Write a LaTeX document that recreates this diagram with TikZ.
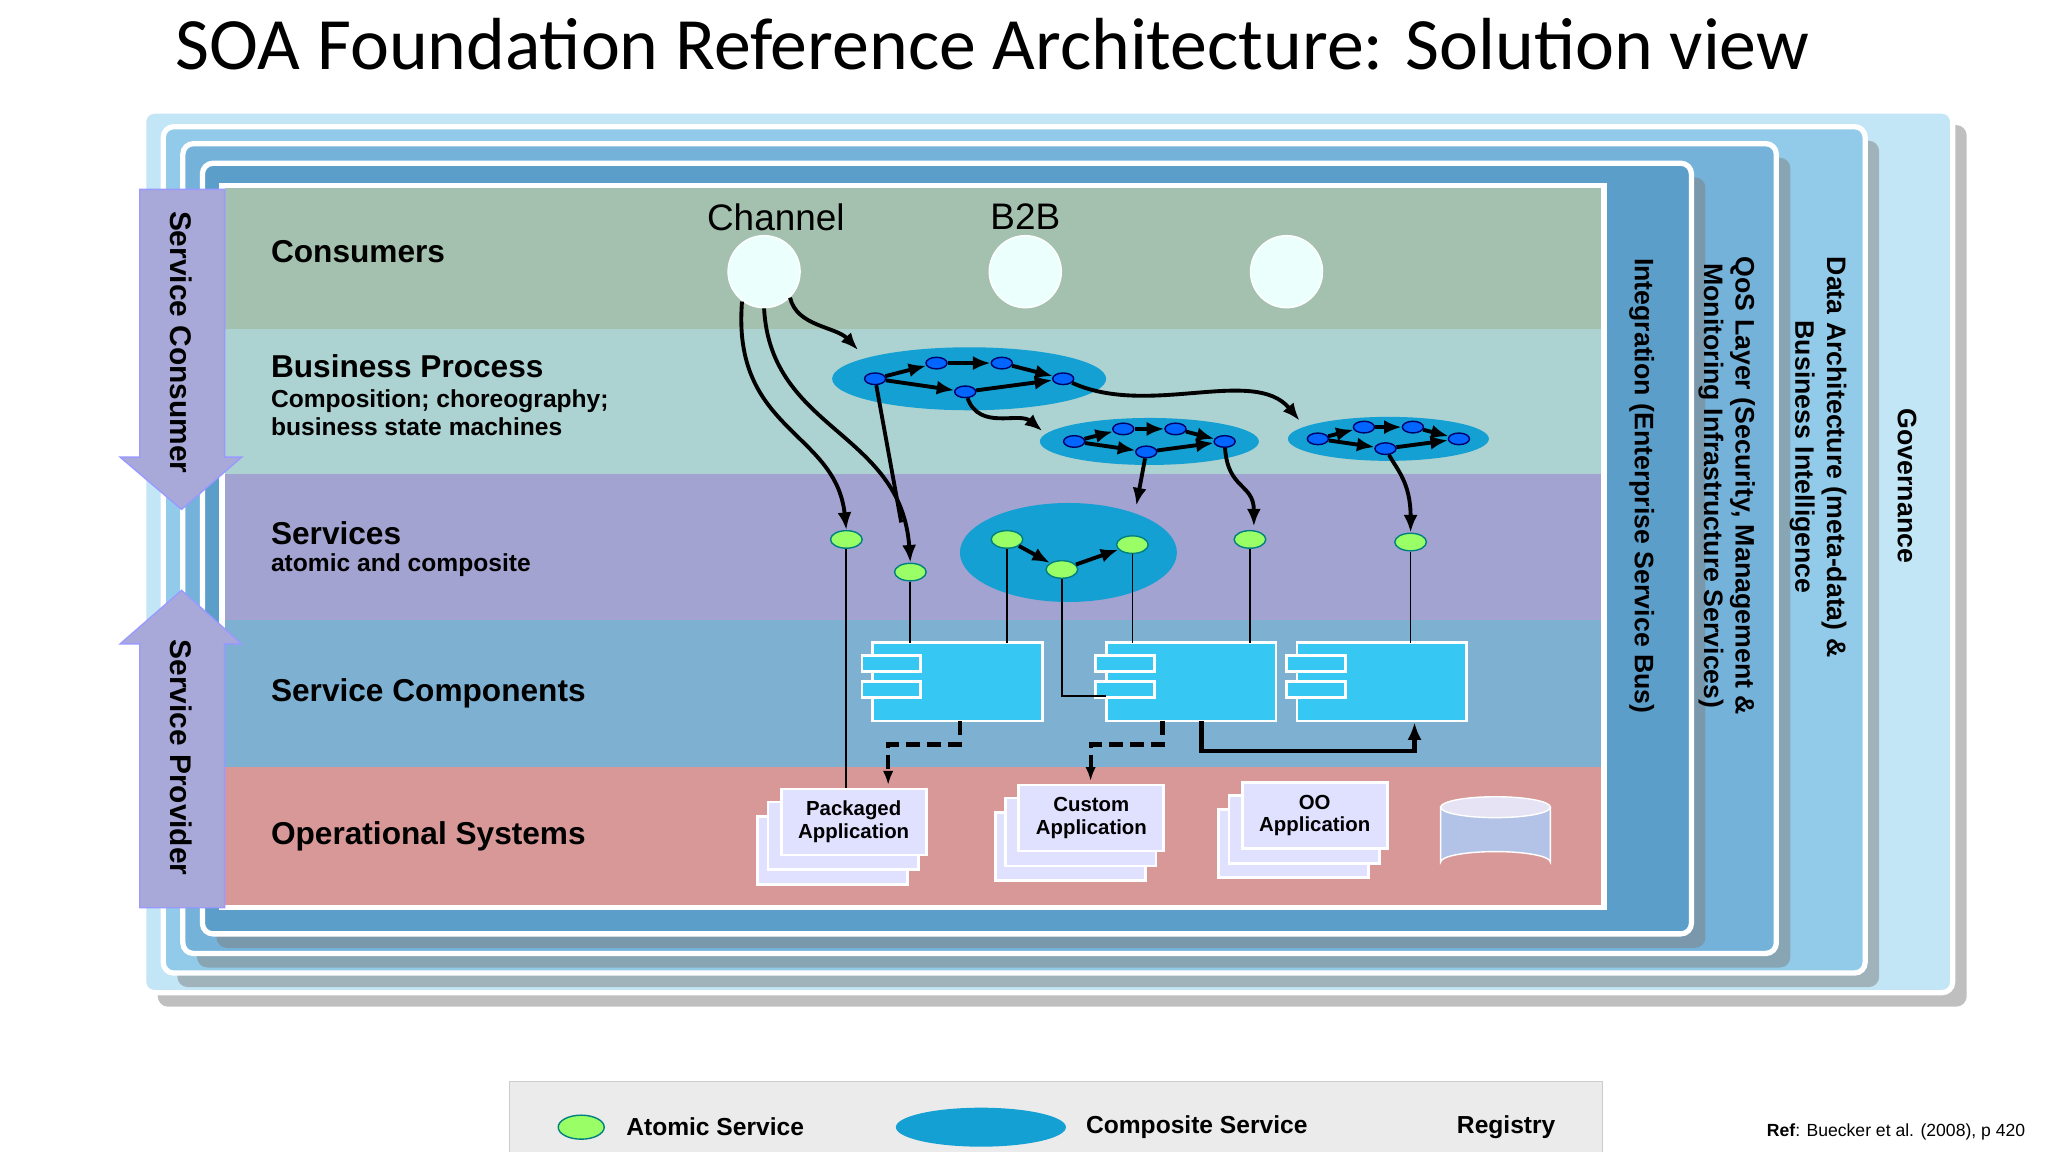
\documentclass[tikz,border=0pt]{standalone}
\usepackage{fontspec}
\setmainfont{Liberation Sans}
\newfontfamily\titlefont{Carlito}
\usetikzlibrary{positioning,arrows.meta,shapes.geometric,shadows,calc}

\definecolor{govblue}{HTML}{C2E6F6}
\definecolor{datablue}{HTML}{92CBE9}
\definecolor{qosblue}{HTML}{74B2DA}
\definecolor{esbblue}{HTML}{5B9ECA}
\definecolor{compcyan}{HTML}{36C8F2}
\definecolor{ellblue}{HTML}{14A0D2}

\tikzset{
  panel/.style={draw=white,line width=1.5pt,rounded corners=3pt,drop shadow={shadow xshift=4pt,shadow yshift=-4pt,opacity=.5}},
  band/.style={draw=none},
  layer label/.style={anchor=west,font=\fontsize{9}{10.5}\selectfont\bfseries},
  sub label/.style={anchor=west,font=\fontsize{7}{8.2}\selectfont\bfseries,align=left},
  side label/.style={rotate=-90,font=\fontsize{7.6}{9}\selectfont\bfseries,align=center},
  channel/.style={circle,fill=green!10!cyan!8,draw=white,minimum size=20.5pt,inner sep=0pt},
  atomic/.style={ellipse,fill=green!55!lime!60!white,draw=teal,minimum width=9pt,minimum height=5pt,inner sep=0pt},
  composite/.style={ellipse,fill=ellblue,draw=none},
  dot/.style={ellipse,fill=blue!60!cyan,draw=blue!40!black,minimum width=6pt,minimum height=3.3pt,inner sep=0pt},
  flow/.style={-{Latex[length=5pt,width=4pt]},line width=1.1pt},
  link/.style={line width=0.5pt},
  dashlink/.style={-{Latex[length=4pt]},line width=1.2pt,dash pattern=on 4pt off 2pt},
  component/.style={fill=compcyan,draw=white,line width=0.8pt},
  appbox/.style={fill=blue!12!white,draw=white,line width=0.8pt,align=center,font=\fontsize{5.8}{6.5}\selectfont\bfseries},
}

\newcommand{\bpflow}[4]{% name, cx, cy, scale
  \begin{scope}[shift={(#2,#3)},scale=#4]
    \node[dot] (#1L) at (-72,0) {};
    \node[dot] (#1A) at (-25,-12) {};
    \node[dot] (#1B) at (25,-12) {};
    \node[dot] (#1C) at (-3,10) {};
    \node[dot] (#1R) at (72,0) {};
    \draw[flow] (#1L) -- (#1A);
    \draw[flow] (#1A) -- (#1B);
    \draw[flow] (#1B) -- (#1R);
    \draw[flow] (#1L) -- (#1C);
    \draw[flow] (#1C) -- (#1R);
  \end{scope}}

\newcommand{\compbox}[3]{% name, x, y (top left)
  \fill[component] (#2,#3) rectangle ++(130,60);
  \coordinate (#1) at ($(#2,#3)+(65,30)$);
  \fill[component] (#2-8,#3+10) rectangle ++(45,12);
  \fill[component] (#2-8,#3+30) rectangle ++(45,12);}

\newcommand{\appstack}[4]{% name, x, y, text
  \fill[appbox] (#2,#3+22) rectangle ++(115,52);
  \fill[appbox] (#2+8,#3+11) rectangle ++(115,52);
  \node[appbox,minimum width=1.45cm,minimum height=0.66cm,inner sep=1pt,anchor=north west] (#1) at (#2+17,#3) {#4};}

\begin{document}
\begin{tikzpicture}[x=0.013061cm,y=-0.013061cm]
  \useasboundingbox (0,0) rectangle (1568,882);
  \fill[white] (0,0) rectangle (1568,882);

  \node[font=\titlefont\fontsize{21}{24}\selectfont] (title) at (760,34) {SOA Foundation Reference Architecture: Solution view};

  % nested panels
  \fill[panel,fill=govblue] (110,85) rectangle (1495,760);
  \fill[panel,fill=datablue] (125,97) rectangle (1428,745);
  \fill[panel,fill=qosblue] (140,110) rectangle (1360,730);
  \fill[panel,fill=esbblue] (155,125) rectangle (1295,715);

  % bands
  \fill[band,fill=green!45!teal!20!white!80!black] (170,142) rectangle (1228,252);
  \fill[band,fill=teal!30!cyan!20!white!85!black] (170,252) rectangle (1228,363);
  \fill[band,fill=blue!22!white!82!black] (170,363) rectangle (1228,475);
  \fill[band,fill=blue!40!cyan!40!white!82!black] (170,475) rectangle (1228,587);
  \fill[band,fill=red!30!white!85!black] (170,587) rectangle (1228,695);
  \draw[white,line width=1.5pt] (170,142) rectangle (1228,695);

  \node[layer label] (cons) at (198,193) {Consumers};
  \node[layer label] (bp) at (198,280) {Business Process};
  \node[sub label] (bpsub) at (198,316) {Composition; choreography;\\business state machines};
  \node[layer label] (svc) at (198,408) {Services};
  \node[sub label] (svcsub) at (198,433) {atomic and composite};
  \node[layer label] (comp) at (198,531) {Service Components};
  \node[layer label] (ops) at (198,640) {Operational Systems};

  % side arrows
  \fill[blue!22!white!85!black,draw=blue!40!white] (107,145) -- (172,145) -- (172,350) -- (185,350) -- (139,390) -- (92,350) -- (107,350) -- cycle;
  \fill[blue!22!white!85!black,draw=blue!40!white] (107,695) -- (172,695) -- (172,493) -- (185,493) -- (139,452) -- (92,493) -- (107,493) -- cycle;
  \node[side label,font=\fontsize{8.5}{10}\selectfont\bfseries] (scons) at (139,262) {Service Consumer};
  \node[side label,font=\fontsize{8.5}{10}\selectfont\bfseries] (sprov) at (139,580) {Service Provider};

  % vertical layer texts
  \node[side label] (esb) at (1257,372) {Integration (Enterprise Service Bus)};
  \node[side label] (qos) at (1322,372) {QoS Layer (Security, Management \&\\Monitoring Infrastructure Services)};
  \node[side label] (data) at (1392,350) {Data Architecture (meta-data) \&\\Business Intelligence};
  \node[side label] (gov) at (1460,372) {Governance};

  % consumers
  \node[channel] (ch1) at (585,208) {};
  \node[channel] (ch2) at (785,208) {};
  \node[channel] (ch3) at (985,208) {};
  \node[font=\fontsize{10.5}{12}\selectfont] (chlbl) at (594,166) {Channel};
  \node[font=\fontsize{10.5}{12}\selectfont] (b2blbl) at (785,166) {B2B};

  % business processes
  \node[composite,minimum width=2.74cm,minimum height=0.63cm] (bp1) at (742,290) {};
  \node[composite,minimum width=2.19cm,minimum height=0.47cm] (bp2) at (880,338) {};
  \node[composite,minimum width=2.01cm,minimum height=0.44cm] (bp3) at (1063,336) {};
  \bpflow{p}{742}{290}{1}
  \bpflow{q}{880}{338}{0.8}
  \bpflow{r}{1063}{336}{0.75}

  % services
  \node[composite,minimum width=2.17cm,minimum height=0.99cm] (svcomp) at (818,423) {};
  \node[atomic] (a1) at (648,413) {};
  \node[atomic] (a2) at (697,438) {};
  \node[atomic] (a3) at (771,413) {};
  \node[atomic] (a4) at (813,436) {};
  \node[atomic] (a5) at (867,417) {};
  \node[atomic] (a6) at (957,413) {};
  \node[atomic] (a7) at (1080,415) {};
  \draw[flow] (a3) -- (a4);
  \draw[flow] (a4) -- (a5);

  % links consumer/process to services
  \draw[flow] (ch1.south west) ++(3,3) .. controls (560,330) and (640,330) .. (a1.north);
  \draw[flow] (ch1.south) .. controls (590,330) and (690,330) .. (a2.north);
  \draw[link,line width=1.1pt] (pL) -- (690,400);
  \draw[flow] (ch1.south east) .. controls (610,250) and (640,250) .. (657,268);
  \draw[flow] (pR) .. controls (880,320) and (960,280) .. (995,322);
  \draw[flow] (pC) .. controls (750,330) and (780,315) .. (798,330);
  \draw[flow] (qC) -- (870,387);
  \draw[flow] (qR) .. controls (940,375) and (960,370) .. (960,403);
  \draw[flow] (rC) .. controls (1070,360) and (1080,370) .. (a7.north);

  % service components
  \compbox{c1}{668}{492}
  \compbox{c2}{847}{492}
  \compbox{c3}{993}{492}

  % operational systems
  \appstack{op1}{580}{603}{Packaged\\Application}
  \appstack{op2}{762}{600}{Custom\\Application}
  \appstack{op3}{933}{598}{OO\\Application}
  \fill[cyan!45!blue!30,draw=white] (1103,618) -- (1103,660) arc[start angle=180,end angle=360,x radius=42,y radius=8] -- (1187,618) -- cycle;
  \fill[cyan!20!blue!10,draw=white] (1145,618) ellipse[x radius=42,y radius=8];
  \coordinate (db) at (1145,638);

  % service realisation links
  \draw[link] (a1) -- (648,603);
  \draw[link] (a2) -- (697,492);
  \draw[link] (a3) -- (771,492);
  \draw[link] (a4) -- (813,533) -- (847,533);
  \draw[link] (a5) -- (867,492);
  \draw[link] (a6) -- (957,492);
  \draw[link] (a7) -- (1080,492);
  \draw[dashlink] (735,552) -- (735,570) -- (680,570) -- (680,601);
  \draw[dashlink] (890,552) -- (890,570) -- (835,570) -- (835,598);
  \draw[flow,line width=1.3pt] (920,552) -- (920,575) -- (1083,575) -- (1083,553);

  % legend
  \fill[black!8,draw=black!20] (390,828) rectangle (1227,890);
  \node[atomic,minimum width=0.46cm,minimum height=0.24cm] (lgatom) at (445,863) {};
  \node[sub label] (lgatomt) at (470,863) {Atomic Service};
  \node[composite,minimum width=1.7cm,minimum height=0.39cm] (lgcomp) at (751,863) {};
  \node[sub label] (lgcompt) at (822,863) {Composite Service};
  \node[sub label] (lgreg) at (1106,863) {Registry};

  \node[anchor=east,font=\fontsize{5}{6}\selectfont] (ref) at (1560,867) {\textbf{Ref}: Buecker et al. (2008), p 420};
\end{tikzpicture}
\end{document}
